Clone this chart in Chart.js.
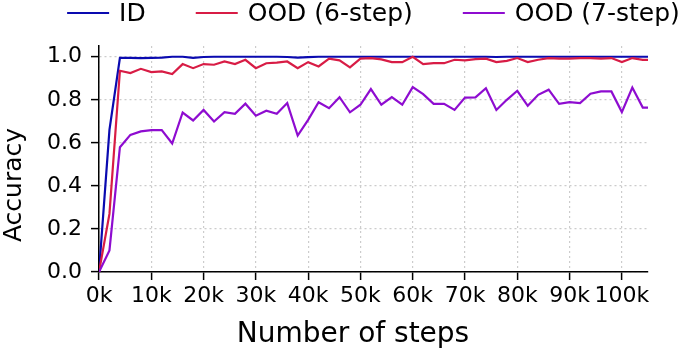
<!DOCTYPE html>
<html>
<head>
<meta charset="utf-8">
<script src="https://cdn.jsdelivr.net/npm/chart.js@4"></script>
<style>
  html, body { margin: 0; padding: 0; background: #fff; }
  #chart { display: block; }
</style>
</head>
<body>
<canvas id="chart" width="681" height="357"></canvas>
<script>
// training steps, in thousands
const steps = [0, 2, 4, 6, 8, 10, 12, 14, 16, 18, 20, 22, 24, 26, 28, 30, 32, 34, 36, 38,
  40, 42, 44, 46, 48, 50, 52, 54, 56, 58, 60, 62, 64, 66, 68, 70, 72, 74, 76, 78,
  80, 82, 84, 86, 88, 90, 92, 94, 96, 98, 100, 102, 104, 105];

const idAcc = [0, 0.66, 0.995, 0.995, 0.994, 0.995, 0.996, 1.0, 1.0, 0.995, 0.999, 1.0, 1.0, 1.0, 1.0, 1.0, 1.0, 1.0, 0.999, 0.996,
  0.998, 1.0, 1.0, 1.0, 1.0, 1.0, 1.0, 1.0, 1.0, 1.0, 1.0, 1.0, 1.0, 1.0, 1.0, 1.0, 1.0, 1.0, 0.999, 1.0,
  1.0, 1.0, 1.0, 1.0, 1.0, 1.0, 1.0, 1.0, 1.0, 1.0, 1.0, 1.0, 1.0, 1.0];

const ood6Acc = [0, 0.27, 0.935, 0.924, 0.944, 0.929, 0.932, 0.920, 0.966, 0.947, 0.966, 0.963, 0.978, 0.966, 0.986, 0.947, 0.970, 0.973, 0.978, 0.947,
  0.975, 0.955, 0.991, 0.983, 0.951, 0.991, 0.994, 0.988, 0.975, 0.975, 1.0, 0.966, 0.970, 0.970, 0.986, 0.983, 0.989, 0.991, 0.975, 0.981,
  0.994, 0.975, 0.986, 0.994, 0.991, 0.991, 0.994, 0.994, 0.991, 0.994, 0.975, 0.994, 0.986, 0.986];

const ood7Acc = [0, 0.10, 0.58, 0.637, 0.653, 0.659, 0.659, 0.597, 0.741, 0.704, 0.753, 0.699, 0.743, 0.735, 0.782, 0.726, 0.749, 0.735, 0.785, 0.634,
  0.707, 0.789, 0.761, 0.812, 0.742, 0.777, 0.850, 0.777, 0.812, 0.777, 0.859, 0.826, 0.781, 0.781, 0.753, 0.810, 0.811, 0.854, 0.753, 0.800,
  0.842, 0.772, 0.823, 0.847, 0.781, 0.789, 0.785, 0.828, 0.839, 0.839, 0.743, 0.857, 0.764, 0.764];

const seriesLabels = ['ID', 'OOD (6-step)', 'OOD (7-step)'];
const seriesColors = ['#0a0ab0', '#d81c45', '#8e0cd0'];

const xTicks = [0, 10, 20, 30, 40, 50, 60, 70, 80, 90, 100];
const yTicks = [0, 0.2, 0.4, 0.6, 0.8, 1.0];

const xTitle = 'Number of steps';
const yTitle = 'Accuracy';

const FONT = '"DejaVu Sans", sans-serif';

const toPoints = (ys) => steps.map((x, i) => ({x: x, y: ys[i]}));

// legend drawn as line samples above the plot, centred on the plot area
const lineLegend = {
  id: 'lineLegend',
  afterDraw(chart) {
    const ctx = chart.ctx;
    const {left, right} = chart.chartArea;
    ctx.save();
    ctx.font = '25px ' + FONT;
    const sample = 42, gap = 10, spacing = 50, y = 13;
    const items = chart.data.datasets.map((ds) => ({ds, w: sample + gap + ctx.measureText(ds.label).width}));
    const total = items.reduce((s, it) => s + it.w, 0) + spacing * (items.length - 1);
    let x = (left + right) / 2 - total / 2;
    items.forEach(({ds, w}) => {
      ctx.strokeStyle = ds.borderColor;
      ctx.lineWidth = 2.2;
      ctx.beginPath();
      ctx.moveTo(x, y);
      ctx.lineTo(x + sample, y);
      ctx.stroke();
      ctx.fillStyle = '#000';
      ctx.textBaseline = 'middle';
      ctx.textAlign = 'left';
      ctx.fillText(ds.label, x + sample + gap, y + 1);
      x += w + spacing;
    });
    ctx.restore();
  }
};

// axis titles sit a bit off the plot centre in the original, so place them by hand
const axisTitles = {
  id: 'axisTitles',
  afterDraw(chart) {
    const ctx = chart.ctx;
    ctx.save();
    ctx.fillStyle = '#000';
    ctx.textAlign = 'center';
    ctx.textBaseline = 'middle';
    ctx.font = '28px ' + FONT;
    ctx.fillText(xTitle, 353, 335);
    ctx.translate(14, 185);
    ctx.rotate(-Math.PI / 2);
    ctx.font = '25px ' + FONT;
    ctx.fillText(yTitle, 0, 0);
    ctx.restore();
  }
};

const gridOpts = {
  color: '#cccccc',
  lineWidth: 1.2,
  drawTicks: true,
  tickLength: 8,
  tickColor: '#000',
  tickWidth: 1.5,
  tickBorderDash: []
};

const borderOpts = {color: '#000', width: 1.5, dash: [2, 3]};

const datasets = [idAcc, ood6Acc, ood7Acc].map((ys, i) => ({
  label: seriesLabels[i],
  data: toPoints(ys),
  borderColor: seriesColors[i],
  backgroundColor: seriesColors[i],
  borderWidth: 2.2,
  pointRadius: 0,
  tension: 0,
  fill: false,
  order: 3 - i
}));

const ctx = document.getElementById('chart').getContext('2d');
const chart = new Chart(ctx, {
  type: 'line',
  data: {datasets},
  plugins: [lineLegend, axisTitles],
  options: {
    responsive: false,
    animation: false,
    devicePixelRatio: 1,
    layout: {padding: {top: 46, right: 33, left: 0, bottom: 0}},
    plugins: {
      legend: {display: false},
      tooltip: {enabled: false}
    },
    scales: {
      x: {
        type: 'linear',
        min: 0,
        max: 105,
        afterBuildTicks: (scale) => { scale.ticks = xTicks.map((v) => ({value: v})); },
        afterFit: (scale) => { scale.height = 85; },
        ticks: {
          color: '#000',
          font: {family: FONT, size: 22},
          padding: 3,
          maxRotation: 0,
          autoSkip: false,
          callback: (v) => v + 'k'
        },
        grid: gridOpts,
        border: borderOpts
      },
      y: {
        min: 0,
        max: 1.05,
        afterBuildTicks: (scale) => { scale.ticks = yTicks.map((v) => ({value: v})); },
        afterFit: (scale) => { scale.width = 99; },
        ticks: {
          color: '#000',
          font: {family: FONT, size: 22},
          padding: 9,
          callback: (v) => v.toFixed(1)
        },
        grid: gridOpts,
        border: borderOpts
      }
    }
  }
});
</script>
</body>
</html>
